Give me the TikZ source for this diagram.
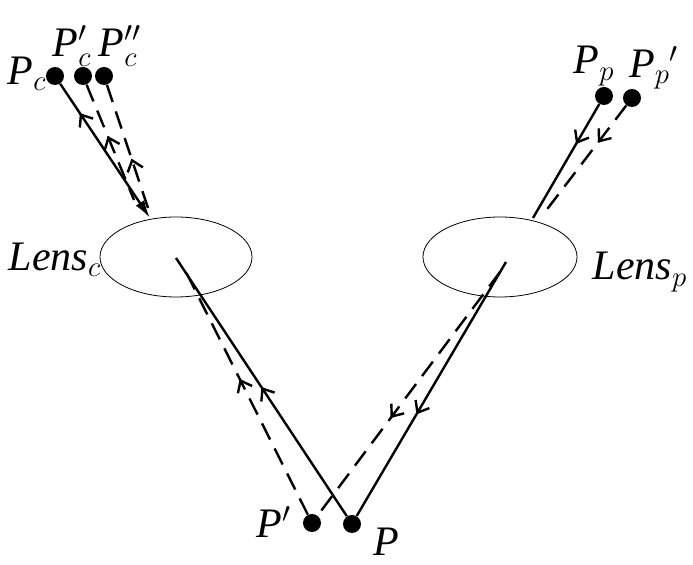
\documentclass[tikz,border=0pt]{standalone}
\usepackage{fontspec}
\setmainfont{Liberation Serif}
\usetikzlibrary{decorations.markings,arrows.meta}
\newcommand{\lbtext}[2]{\textit{#1}$_{#2}$}
\begin{document}
\begin{tikzpicture}[x=0.5pt,y=-0.5pt,
  font=\fontsize{21}{24}\selectfont,
  dot/.style={circle,fill=black,inner sep=0pt,minimum size=9pt},
  ray/.style={line width=1.2pt},
  rayD/.style={line width=1.2pt,dash pattern=on 9pt off 5pt},
  midUp/.style={postaction={decorate},decoration={markings,mark=at position #1 with {\arrow{Straight Barb[length=5pt,width=8pt,reversed]}}}},
  midDown/.style={postaction={decorate},decoration={markings,mark=at position #1 with {\arrow{Straight Barb[length=5pt,width=8pt]}}}},
  lbl/.style={inner sep=1pt}]
  \useasboundingbox (0,0) rectangle (693,565);

  % points
  \node[dot] (pc) at (55,76) {};
  \node[dot] (pc1) at (83,76) {};
  \node[dot] (pc2) at (104,76) {};
  \node[dot] (pp) at (604,96) {};
  \node[dot] (pp1) at (632,98) {};
  \node[dot] (p) at (352,524) {};
  \node[dot] (p1) at (312,523) {};

  % lenses
  \draw[thin] (176,257) ellipse (76 and 40);
  \draw[thin] (500,257) ellipse (77 and 40);
  \coordinate (lcTop) at (150,218);
  \coordinate (lcIn) at (176,258);
  \coordinate (lcInD) at (184,268);
  \coordinate (lcTopD1) at (134,200);
  \coordinate (lcTopD2) at (148,208);
  \coordinate (lpTop) at (533,218);
  \coordinate (lpIn) at (506,262);
  \coordinate (lpInD) at (500,272);
  \coordinate (lpTopD) at (545,212);

  % labels
  \node[lbl] at (27,74) {\lbtext{P}{c}};
  \node[lbl] at (72,46) {\textit{P}$^{\prime}_{c}$};
  \node[lbl] at (120,46) {\textit{P}$^{\prime\prime}_{c}$};
  \node[lbl] at (594,66) {\lbtext{P}{p}};
  \node[lbl] at (654,68) {\lbtext{P}{p}$'$};
  \node[lbl] at (55,260) {\lbtext{Lens}{c}};
  \node[lbl] at (640,272) {\lbtext{Lens}{p}};
  \node[lbl] at (274,522) {\textit{P}$'$};
  \node[lbl] at (386,542) {\textit{P}};

  % camera side
  \draw[ray,-{Latex[length=9pt,width=5pt]},midUp=0.3] (pc) -- (lcTop);
  \draw[rayD,midUp=0.55] (pc1) -- (lcTopD1);
  \draw[rayD,midUp=0.7] (pc2) -- (lcTopD2);
  \draw[ray,midDown=0.5] (p) -- (lcIn);
  \draw[rayD,midDown=0.55] (p1) -- (lcInD);

  % projector side
  \draw[ray,midDown=0.35] (pp) -- (lpTop);
  \draw[rayD,midDown=0.35] (pp1) -- (lpTopD);
  \draw[ray,midDown=0.6] (lpIn) -- (p);
  \draw[rayD,midDown=0.6] (lpInD) -- (p1);
\end{tikzpicture}
\end{document}
